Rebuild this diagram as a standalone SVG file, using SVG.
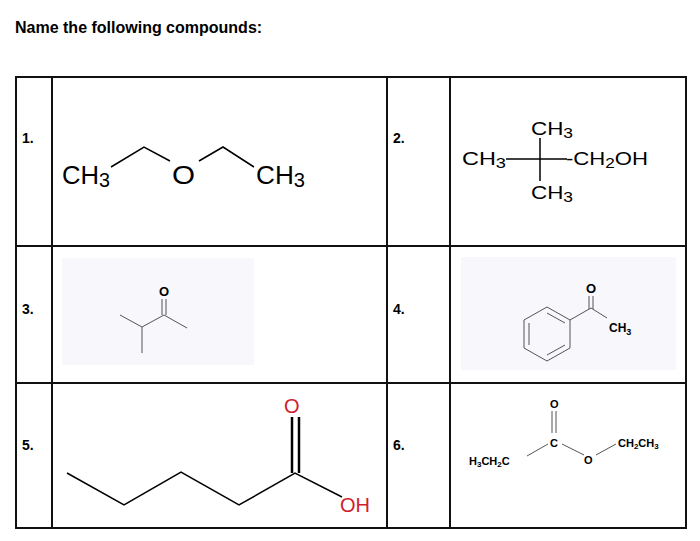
<svg xmlns="http://www.w3.org/2000/svg" width="700" height="541" viewBox="0 0 700 541">
<style>
.t{font-family:"Liberation Sans",Arial,sans-serif;fill:#000}
.b{font-weight:bold;font-size:14px}
.bd{stroke:#000;fill:none;stroke-width:1.5}
.g{stroke:#555;fill:none;stroke-width:1}
.grid{stroke:#111;stroke-width:2;fill:none}
</style>
<rect width="700" height="541" fill="#fff"/>
<text class="t" x="15" y="33" font-size="16" font-weight="bold">Name the following compounds:</text>
<g id="table" class="grid">
<rect x="16" y="77" width="670" height="451"/>
<line x1="52" y1="77" x2="52" y2="528"/>
<line x1="387" y1="77" x2="387" y2="528"/>
<line x1="450" y1="77" x2="450" y2="528"/>
<line x1="16" y1="246" x2="686" y2="246"/>
<line x1="16" y1="383" x2="686" y2="383"/>
</g>
<g id="labels">
<text class="t b" x="22" y="143">1.</text>
<text class="t b" x="393" y="143">2.</text>
<text class="t b" x="22" y="314">3.</text>
<text class="t b" x="393" y="314">4.</text>
<text class="t b" x="22" y="450">5.</text>
<text class="t b" x="393" y="450">6.</text>
</g>
<g id="c1">
<text class="t" x="62" y="184" font-size="26" textLength="48" lengthAdjust="spacingAndGlyphs">CH<tspan font-size="20" dy="3">3</tspan></text>
<text class="t" x="172" y="184" font-size="26" textLength="23" lengthAdjust="spacingAndGlyphs">O</text>
<text class="t" x="256" y="184" font-size="26" textLength="49" lengthAdjust="spacingAndGlyphs">CH<tspan font-size="20" dy="3">3</tspan></text>
<polyline class="bd" points="111,167 144,147 170,161"/>
<polyline class="bd" points="199,161 223,147 254,167"/>
</g>
<g id="c2">
<text class="t" x="531" y="135" font-size="18" textLength="42" lengthAdjust="spacingAndGlyphs">CH<tspan font-size="14" dy="3">3</tspan></text>
<text class="t" x="462" y="165" font-size="18" textLength="44" lengthAdjust="spacingAndGlyphs">CH<tspan font-size="14" dy="3">3</tspan></text>
<text class="t" x="566" y="165" font-size="18" textLength="82" lengthAdjust="spacingAndGlyphs">-CH<tspan font-size="14" dy="3">2</tspan><tspan dy="-3">OH</tspan></text>
<text class="t" x="531" y="199" font-size="18" textLength="42" lengthAdjust="spacingAndGlyphs">CH<tspan font-size="14" dy="3">3</tspan></text>
<line class="bd" x1="506" y1="159" x2="567" y2="159" stroke-width="1.2"/>
<line class="bd" x1="540" y1="138" x2="540" y2="181" stroke-width="1.2"/>
</g>
<g id="c3">
<rect x="62" y="258" width="192" height="107" fill="#f7f7fc"/>
<text class="t" x="159" y="296" font-size="13" font-weight="bold">O</text>
<line class="g" x1="162" y1="299" x2="162" y2="315"/>
<line class="g" x1="166" y1="299" x2="166" y2="315"/>
<polyline class="g" points="120,315 142,327 164,315 187,328"/>
<line class="g" x1="142" y1="327" x2="142" y2="353"/>
</g>
<g id="c4">
<rect x="461" y="257" width="215" height="113" fill="#f7f7fc"/>
<text class="t" x="586" y="293" font-size="13" font-weight="bold">O</text>
<line class="g" x1="589" y1="296" x2="589" y2="309"/>
<line class="g" x1="593" y1="296" x2="593" y2="309"/>
<polyline class="g" points="570,320 591,308 607,318"/>
<text class="t" x="609" y="332" font-size="12" font-weight="bold">CH<tspan font-size="9" dy="3">3</tspan></text>
<polygon class="g" points="547,307 570,320 570,348 547,361 524,348 524,320"/>
<line class="g" x1="547" y1="313" x2="565" y2="323"/>
<line class="g" x1="529" y1="323" x2="529" y2="345"/>
<line class="g" x1="547" y1="355" x2="565" y2="345"/>
</g>
<g id="c5">
<polyline class="bd" stroke-width="2.5" points="67,473 124,505 181,472 239,505 295,473 342,497"/>
<line x1="292" y1="473" x2="292" y2="417" stroke="#000" stroke-width="2.5"/>
<line x1="299" y1="473" x2="299" y2="417" stroke="#000" stroke-width="2.5"/>
<text class="t" x="284" y="413" font-size="20" style="fill:#d0202a">O</text>
<text class="t" x="340" y="512" font-size="20" style="fill:#d0202a">OH</text>
</g>
<g id="c6">
<text class="t" x="550" y="408" font-size="11" font-weight="bold">O</text>
<line class="g" x1="552" y1="411" x2="552" y2="433"/>
<line class="g" x1="556" y1="411" x2="556" y2="433"/>
<text class="t" x="550" y="447" font-size="11" font-weight="bold">C</text>
<text class="t" x="469" y="465" font-size="11" font-weight="bold">H<tspan font-size="8" dy="2">3</tspan><tspan dy="-2">CH</tspan><tspan font-size="8" dy="2">2</tspan><tspan dy="-2">C</tspan></text>
<text class="t" x="584" y="464" font-size="11" font-weight="bold">O</text>
<text class="t" x="618" y="447" font-size="11" font-weight="bold">CH<tspan font-size="8" dy="2">2</tspan><tspan dy="-2">CH</tspan><tspan font-size="8" dy="2">3</tspan></text>
<line class="g" x1="527" y1="456" x2="548" y2="444"/>
<line class="g" x1="562" y1="444" x2="584" y2="455"/>
<line class="g" x1="596" y1="455" x2="616" y2="444"/>
</g>
</svg>
